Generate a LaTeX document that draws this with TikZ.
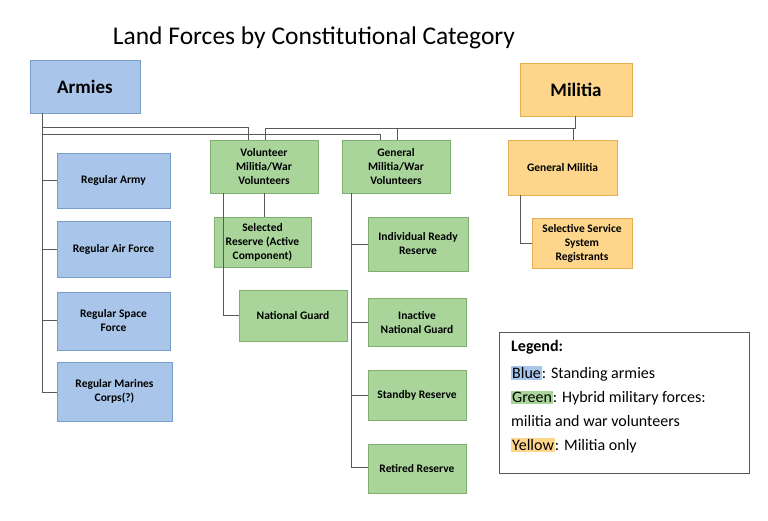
\documentclass[tikz,border=0pt]{standalone}
\usepackage{fontspec}
\setmainfont{Carlito}
\begin{document}
\begin{tikzpicture}[x=1pt,y=-1pt,
 box/.style={draw,line width=0.8pt,align=center,font=\bfseries\fontsize{11.5}{14}\selectfont,inner sep=2pt},
 blue/.style={box,fill=blueF,draw=blueD},
 green/.style={box,fill=greenF,draw=greenD},
 yel/.style={box,fill=yelF,draw=yelD},
 ln/.style={draw=gray!70!black,line width=0.9pt}]
\definecolor{blueF}{HTML}{A9C5EA}\definecolor{blueD}{HTML}{7A9CC8}
\definecolor{greenF}{HTML}{A9D59B}\definecolor{greenD}{HTML}{7FAE6E}
\definecolor{yelF}{HTML}{FDD68C}\definecolor{yelD}{HTML}{E5AE52}
\useasboundingbox (0,0) rectangle (768,520);
\fill[white] (0,0) rectangle (768,520);
\node[font=\fontsize{25.5}{30}\selectfont] (title) at (314,38) {Land Forces by Constitutional Category};
\newcommand{\bx}[7]{\node[#1,minimum width=#4-#3,minimum height=#6-#5] (#2) at ({(#3+#4)/2},{(#5+#6)/2}) {#7};}
\bx{blue}{armies}{30}{140}{60}{113}{\fontsize{19}{22}\selectfont Armies}
\bx{yel}{militia}{520}{632}{63}{116}{\fontsize{19}{22}\selectfont Militia}
\bx{blue}{ra}{57}{170}{153}{208}{Regular Army}
\bx{blue}{raf}{57}{170}{221}{277}{Regular Air Force}
\bx{blue}{rsf}{57}{170}{292}{350}{Regular Space\\Force}
\bx{blue}{rmc}{57}{172}{362}{421}{Regular Marines\\Corps(?)}
\bx{green}{vol}{210}{318}{140}{193}{Volunteer\\Militia/War\\Volunteers}
\bx{green}{gen}{342}{450}{140}{193}{General\\Militia/War\\Volunteers}
\bx{yel}{gm}{508}{617}{140}{195}{General Militia}
\bx{green}{sel}{214}{311}{217}{267}{Selected\\Reserve (Active\\Component)}
\bx{green}{ng}{239}{347}{290}{341}{National Guard}
\bx{green}{irr}{368}{468}{217}{271}{Individual Ready\\Reserve}
\bx{green}{ing}{368}{466}{298}{346}{Inactive\\National Guard}
\bx{green}{sr}{368}{466}{370}{420}{Standby Reserve}
\bx{green}{rr}{368}{466}{444}{493}{Retired Reserve}
\bx{yel}{sss}{532}{632}{218}{268}{Selective Service\\System\\Registrants}
% armies connectors
\coordinate (a0) at (armies.south -| 42,0);
\draw[ln] (a0) -- (42,392) -- (rmc.west |- 0,392);
\foreach \n/\y in {ra/180,raf/249,rsf/320} \draw[ln] (42,\y) -- (\n.west |- 0,\y);
\draw[ln] (42,127) -- (248,127) -- (vol.north -| 248,0);
\draw[ln] (42,134) -- (380,134) -- (gen.north -| 380,0);
% militia connectors
\draw[ln] (militia.south -| 575,0) -- (575,128) -- (265,128) -- (vol.north -| 265,0);
\draw[ln] (397,128) -- (gen.north -| 397,0);
\draw[ln] (573,128) -- (gm.north -| 573,0);
% sub connectors
\draw[ln] (vol.south -| 264,0) -- (sel.north -| 264,0);
\draw[ln] (vol.south -| 223,0) -- (223,315) -- (ng.west |- 0,315);
\draw[ln] (gen.south -| 351,0) -- (351,467) -- (rr.west |- 0,467);
\foreach \n/\y in {irr/244,ing/322,sr/395} \draw[ln] (351,\y) -- (\n.west |- 0,\y);
\draw[ln] (gm.south -| 520,0) -- (520,243) -- (sss.west |- 0,243);
% legend
\node[draw=gray!70!black,line width=0.9pt,minimum width=250,minimum height=141,anchor=north west] (leg) at (499,332) {};
\setlength{\fboxsep}{1pt}
\node[anchor=north west,align=left,font=\fontsize{16}{24}\selectfont,inner sep=0pt] (legt) at (511,340) {%
\textbf{Legend:}\\[3pt]
\colorbox{blueF}{Blue}: Standing armies\\
\colorbox{greenF}{Green}: Hybrid military forces:\\
militia and war volunteers\\
\colorbox{yelF}{Yellow}: Militia only};
\end{tikzpicture}
\end{document}
